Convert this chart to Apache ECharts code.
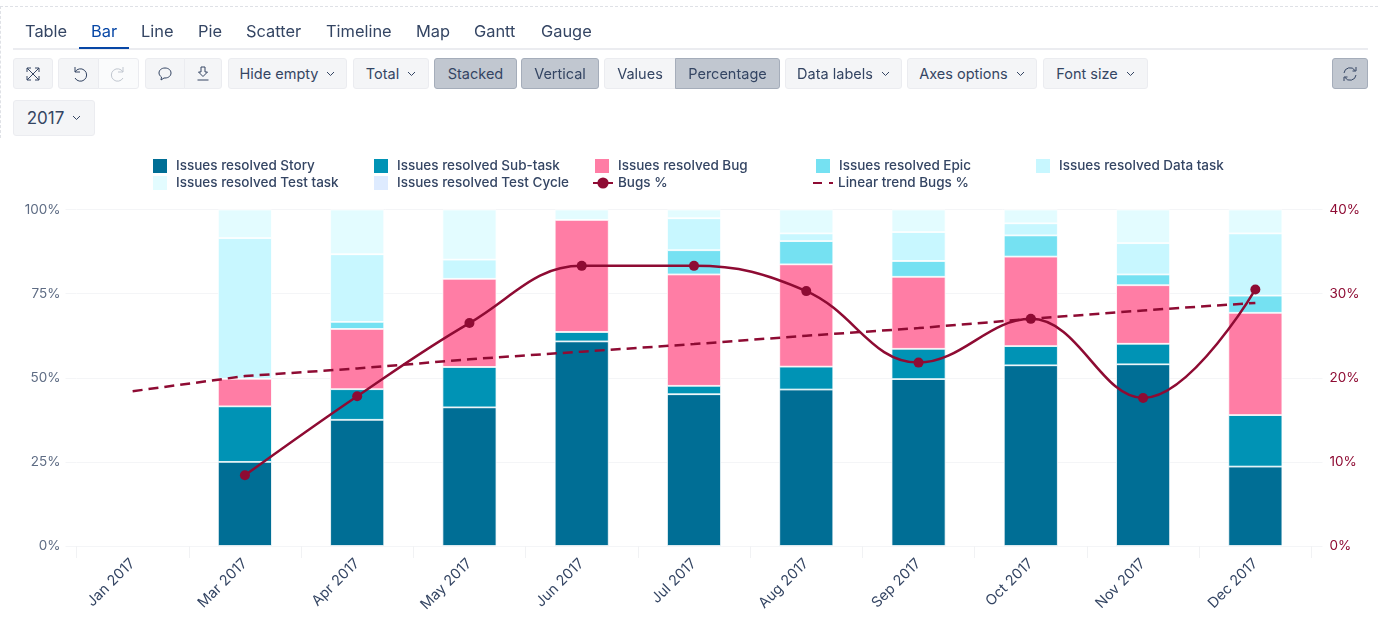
<!DOCTYPE html>
<html>
<head>
<meta charset="utf-8">
<title>Issues resolved 2017</title>
<script src="https://cdn.jsdelivr.net/npm/echarts@6/dist/echarts.min.js"></script>
<style>
html, body { margin: 0; padding: 0; background: #fff; overflow: hidden; }
body { width: 1380px; height: 642px; position: relative; font-family: Inter, "Noto Sans", sans-serif; color: #344563; }
#chart { position: absolute; left: 0; top: 0; width: 1380px; height: 642px; }
.tab { position: absolute; top: 20px; font-size: 16.4px; line-height: 22px; white-space: nowrap; }
.btn { position: absolute; box-sizing: border-box; background: #f4f5f7; border: 1px solid #ebecf0; border-radius: 3px; font-size: 14.5px; display: flex; align-items: center; justify-content: center; white-space: nowrap; }
.btn.on { background: #c1c7d0; border-color: #a5adba; }
.btn svg { display: block; }
.chev { margin-left: 8px; }
#dashTop { position: absolute; left: 0; top: 6px; width: 1378px; border-top: 1px dashed #dfe1e6; }
#dashLeft { position: absolute; left: 0; top: 6px; height: 132px; border-left: 1px dashed #dfe1e6; }
#tabLine { position: absolute; left: 13px; top: 48px; width: 1355px; height: 2px; background: #ebecf0; }
#tabOn { position: absolute; left: 79px; top: 47px; width: 50px; height: 2px; background: #0747a6; }
</style>
</head>
<body>
<div id="chart"></div>
<div id="dashTop"></div>
<div id="dashLeft"></div>
<div id="tabLine"></div>
<div id="tabOn"></div>
<div id="ui"></div>
<script>
var categories = ['Jan 2017', 'Mar 2017', 'Apr 2017', 'May 2017', 'Jun 2017', 'Jul 2017', 'Aug 2017', 'Sep 2017', 'Oct 2017', 'Nov 2017', 'Dec 2017'];
var story = [null, 25, 37.5, 41.2, 60.8, 45.1, 46.5, 49.6, 53.7, 54, 23.6];
var subTask = [null, 16.5, 9.1, 12, 2.8, 2.5, 6.8, 9, 5.7, 6.1, 15.3];
var bug = [null, 8.2, 17.9, 26.2, 33.3, 33.1, 30.4, 21.4, 26.6, 17.4, 30.4];
var epic = [null, null, 2.1, null, null, 7.2, 6.9, 4.7, 6.3, 3.2, 5.1];
var dataTask = [null, 41.8, 20.1, 5.7, null, 9.5, 2.3, 8.6, 3.6, 9.3, 18.5];
var testTask = [null, 8.5, 13.3, 14.9, 3.1, 2.6, 7.1, 6.7, 4.1, 10, 7.1];
var testCycle = [null, null, null, null, null, null, null, null, null, null, null];
var bugsPct = [null, 8.4, 17.8, 26.5, 33.3, 33.3, 30.3, 21.8, 27, 17.6, 30.5];
var trendPct = [18.4, 20.2, 21.1, 22.2, 23.1, 24, 25, 25.9, 27, 28, 28.9];

var barNames = ['Issues resolved Story', 'Issues resolved Sub-task', 'Issues resolved Bug', 'Issues resolved Epic', 'Issues resolved Data task', 'Issues resolved Test task', 'Issues resolved Test Cycle'];
var barValues = [story, subTask, bug, epic, dataTask, testTask, testCycle];
var barColors = ['#006e95', '#0093b5', '#ff7da5', '#75e1f2', '#c8f7ff', '#e3fcff', '#deebff'];
var lineColor = '#8e0b33';
var textColor = '#344563';
var gridColor = '#f4f5f7';
var fontName = 'Inter';

// toolbar above the chart
var tabs = [['Table', 25], ['Bar', 91], ['Line', 141], ['Pie', 198], ['Scatter', 246], ['Timeline', 326], ['Map', 416], ['Gantt', 474], ['Gauge', 541]];
var chevron = '<svg class="chev" width="9" height="6" viewBox="0 0 9 6"><path d="M1 1l3.5 3.5L8 1" fill="none" stroke="#344563" stroke-width="1"/></svg>';
function icon(path, color) {
    return '<svg width="18" height="18" viewBox="0 0 18 18" fill="none" stroke="' + (color || '#344563') + '" stroke-width="1">' + path + '</svg>';
}
var iconExpand = icon('<path d="M3 3l12 12M15 3L3 15M3 7V3h4M11 3h4v4M3 11v4h4M15 11v4h-4"/>');
var iconUndo = icon('<path d="M5 2v5h5M5 7a6.200 6.200 0 1 1 0 6"/>');
var iconRedo = icon('<path d="M13 2v5H8M13 7a6.200 6.200 0 1 0 0 6"/>', '#c1c7d0');
var iconComment = icon('<path d="M9 3c3.600 0 6 2.200 6 5s-2.400 5-6 5l-1 0-3 2 .5-3C4 11 3 9.600 3 8c0-2.800 2.400-5 6-5z"/>');
var iconSave = icon('<path d="M7 2h4v5h2.500L9 11.500 4.500 7H7zM3.500 15h11"/>');
var iconRefresh = icon('<path d="M3 8a6 6 0 0 1 11-2.500M15 2v4h-3.500M15 10a6 6 0 0 1-11 2.500M3 16v-4h3.500"/>');
// left, right, top, bottom, content, selected, extra css
var buttons = [
    [13, 53, 58, 89, iconExpand],
    [58, 99, 58, 89, iconUndo, 0, 'border-radius:3px 0 0 3px'],
    [98, 139, 58, 89, iconRedo, 0, 'border-radius:0 3px 3px 0;background:#fafbfc'],
    [145, 185, 58, 89, iconComment, 0, 'border-radius:3px 0 0 3px'],
    [184, 222, 58, 89, iconSave, 0, 'border-radius:0 3px 3px 0'],
    [228, 347, 58, 89, 'Hide empty' + chevron],
    [353, 429, 58, 89, 'Total' + chevron],
    [434, 517, 58, 89, 'Stacked', 1],
    [521, 599, 58, 89, 'Vertical', 1],
    [604, 676, 58, 89, 'Values', 0, 'border-radius:3px 0 0 3px'],
    [675, 780, 58, 89, 'Percentage', 1, 'border-radius:0 3px 3px 0'],
    [785, 902, 58, 89, 'Data labels' + chevron],
    [907, 1037, 58, 89, 'Axes options' + chevron],
    [1043, 1148, 58, 89, 'Font size' + chevron],
    [1332, 1368, 58, 89, iconRefresh, 1],
    [13, 95, 100, 136, '2017' + chevron, 0, 'font-size:17px']
];
var ui = '';
for (var i = 0; i < tabs.length; i++) {
    ui += '<div class="tab" style="left:' + tabs[i][1] + 'px;' + (tabs[i][0] == 'Bar' ? 'color:#0747a6' : '') + '">' + tabs[i][0] + '</div>';
}
for (var b = 0; b < buttons.length; b++) {
    var k = buttons[b];
    ui += '<div class="btn' + (k[5] ? ' on' : '') + '" style="left:' + k[0] + 'px;width:' + (k[1] - k[0]) + 'px;top:' + k[2] + 'px;height:' + (k[3] - k[2]) + 'px;' + (k[6] || '') + '">' + k[4] + '</div>';
}
document.getElementById('ui').innerHTML = ui;

var series = [];
for (var s = 0; s < barNames.length; s++) {
    series.push({
        name: barNames[s],
        type: 'bar',
        stack: 'issues',
        barWidth: 54,
        data: barValues[s],
        itemStyle: { color: barColors[s], borderColor: '#fff', borderWidth: 0.8 }
    });
}
series.push({
    name: 'Bugs %',
    type: 'line',
    yAxisIndex: 1,
    data: bugsPct,
    smooth: 0.4,
    symbol: 'circle',
    symbolSize: 10,
    z: 5,
    lineStyle: { color: lineColor, width: 2.5 },
    itemStyle: { color: lineColor }
});
series.push({
    name: 'Linear trend Bugs %',
    type: 'line',
    yAxisIndex: 1,
    data: trendPct,
    symbol: 'none',
    z: 4,
    lineStyle: { color: lineColor, width: 2.5, type: [10, 6] },
    itemStyle: { color: lineColor }
});

// one legend per entry, the reference keeps them in fixed columns
var legendItems = [
    [barNames[0], 153, 157], [barNames[1], 374, 157], [barNames[2], 595, 157], [barNames[3], 816, 157], [barNames[4], 1036, 157],
    [barNames[5], 153, 174], [barNames[6], 374, 174], ['Bugs %', 592, 174], ['Linear trend Bugs %', 813, 174]
];
var legends = legendItems.map(function (it) {
    var isLine = it[0].indexOf('Bugs %') >= 0;
    var isTrend = it[0].indexOf('trend') >= 0;
    var entry = { name: it[0] };
    if (!isLine) entry.icon = 'rect';
    if (isTrend) entry.icon = 'path://M0 0h9v2H0zM16 0h4v2h-4z';
    return {
        data: [entry],
        left: it[1],
        top: it[2],
        padding: 0,
        itemWidth: isLine ? 20 : 14,
        itemHeight: isTrend ? 2 : 14,
        itemGap: 0,
        itemStyle: { borderWidth: 0 },
        textStyle: { color: textColor, fontFamily: fontName, fontSize: 13.5, fontWeight: 500, lineHeight: 16, padding: [2, 0, 0, isLine ? 0 : 4] }
    };
});

var chart = echarts.init(document.getElementById('chart'));
chart.setOption({
    animation: false,
    legend: legends,
    grid: { left: 76.5, right: 68.5, top: 209.5, height: 336.5 },
    xAxis: {
        type: 'category',
        data: categories,
        axisLine: { lineStyle: { color: gridColor, width: 1 } },
        axisTick: { show: true, length: 12, lineStyle: { color: '#f1f2f4' } },
        axisLabel: { rotate: 45, margin: 15, color: textColor, fontFamily: fontName, fontSize: 14.5, interval: 0 }
    },
    yAxis: [
        {
            type: 'value',
            min: 0,
            max: 100,
            interval: 25,
            axisLine: { show: false },
            axisTick: { show: true, length: 11, lineStyle: { color: gridColor } },
            splitLine: { lineStyle: { color: gridColor } },
            axisLabel: { formatter: '{value}%', margin: 16, color: '#5e6c84', fontFamily: fontName, fontSize: 13.5, padding: [7, 0, 0, 0] }
        },
        {
            type: 'value',
            min: 0,
            max: 40,
            interval: 10,
            position: 'right',
            axisLine: { show: false },
            axisTick: { show: true, length: 11, lineStyle: { color: gridColor } },
            splitLine: { show: false },
            axisLabel: { formatter: '{value}%', margin: 18, color: lineColor, fontFamily: fontName, fontSize: 13.5, padding: [7, 0, 0, 0] }
        }
    ],
    series: series
});
</script>
</body>
</html>
